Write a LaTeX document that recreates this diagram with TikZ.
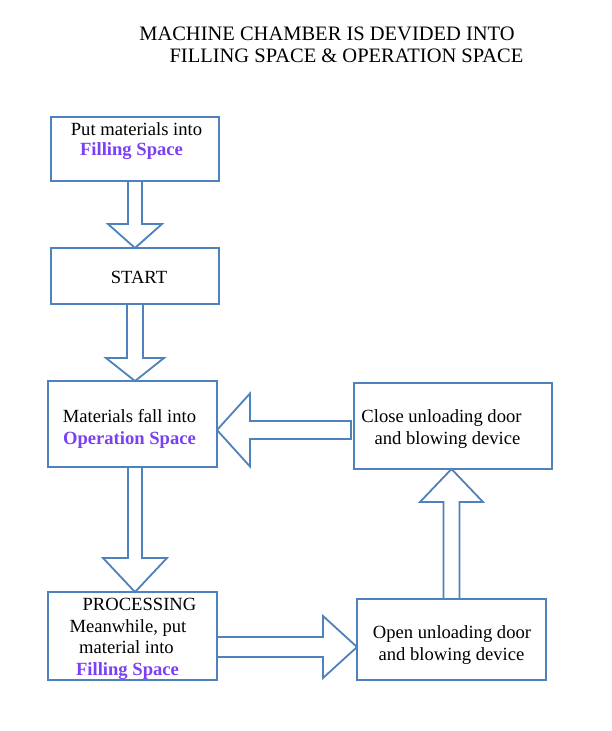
\documentclass[tikz,border=0pt]{standalone}
\usepackage{fontspec}
\setmainfont{Liberation Serif}
\usetikzlibrary{calc}
\definecolor{boxblue}{RGB}{79,129,189}
\definecolor{hlpurple}{RGB}{123,63,245}
\newcommand\bodyfnt{\fontsize{18.6}{22}\selectfont}
\newcommand\titlefnt{\fontsize{20.5}{24}\selectfont}
\newcommand\vblk[5]{\draw[blk] ($(#1)+(-#3,0)$) -- ($(#2)+(-#3,{-(#5)})$) -- ($(#2)+(-#4,{-(#5)})$) -- (#2) -- ($(#2)+(#4,{-(#5)})$) -- ($(#2)+(#3,{-(#5)})$) -- ($(#1)+(#3,0)$) -- cycle;}
\newcommand\hblk[5]{\draw[blk] ($(#1)+(0,-#3)$) -- ($(#2)+({-(#5)},-#3)$) -- ($(#2)+({-(#5)},-#4)$) -- (#2) -- ($(#2)+({-(#5)},#4)$) -- ($(#2)+({-(#5)},#3)$) -- ($(#1)+(0,#3)$) -- cycle;}
\tikzset{
  box/.style={draw=boxblue, line width=1.8pt, anchor=north west, inner sep=0pt, outer sep=0pt},
  blk/.style={draw=boxblue, line width=1.8pt, fill=white, line join=miter},
  txt/.style={font=\bodyfnt, anchor=base, inner sep=0pt},
  hl/.style={txt, font=\bodyfnt\bfseries, text=hlpurple},
  ttl/.style={font=\titlefnt, anchor=base, inner sep=0pt}
}
\begin{document}
\begin{tikzpicture}[x=1pt,y=-1pt]
\useasboundingbox[fill=white] (0,0) rectangle (611,731);
% title
\node[ttl] (ttl1) at (327,40) {MACHINE CHAMBER IS DEVIDED INTO};
\node[ttl] (ttl2) at (346.5,62) {FILLING SPACE \& OPERATION SPACE};
% boxes
\node[box, minimum width=168pt, minimum height=64pt] (b1) at (51,117) {};
\node[box, minimum width=168pt, minimum height=56pt] (b2) at (51,248) {};
\node[box, minimum width=169pt, minimum height=86pt] (b3) at (48,381) {};
\node[box, minimum width=169pt, minimum height=88pt] (b4) at (48,592) {};
\node[box, minimum width=198pt, minimum height=86pt] (b5) at (354,383) {};
\node[box, minimum width=189pt, minimum height=81pt] (b6) at (357,599) {};
% arrows
\coordinate (a1t) at (b1.south |- b2.north);
\vblk{b1.south}{a1t}{7}{27}{24}
\coordinate (a2t) at (b2.south |- b3.north);
\vblk{b2.south}{a2t}{8}{29}{23}
\coordinate (a3s) at ($(b3.south)+(2.5,0)$);
\coordinate (a3t) at (a3s |- b4.north);
\vblk{a3s}{a3t}{7}{32}{34}
\coordinate (a4s) at ($(b5.west)+(-3,4)$);
\coordinate (a4t) at (b3.east |- a4s);
\hblk{a4s}{a4t}{9}{36.5}{-33}
\coordinate (a5s) at ($(b4.east)+(0,11)$);
\coordinate (a5t) at (b6.west |- a5s);
\hblk{a5s}{a5t}{10}{31}{34}
\coordinate (a6t) at (b6.north |- b5.south);
\vblk{b6.north}{a6t}{8}{31.5}{-33}
% texts
\node[txt] (t1a) at (136.5,135) {Put materials into};
\node[hl]  (t1b) at (131.5,155) {Filling Space};
\node[txt] (t2a) at (139,283) {START};
\node[txt] (t3a) at (129.5,422) {Materials fall into};
\node[hl]  (t3b) at (129.5,444) {Operation Space};
\node[txt] (t4a) at (139.5,610) {PROCESSING};
\node[txt] (t4b) at (128,632) {Meanwhile, put};
\node[txt] (t4c) at (126.5,653) {material into};
\node[hl]  (t4d) at (127.5,675) {Filling Space};
\node[txt] (t5a) at (441.5,422) {Close unloading door};
\node[txt] (t5b) at (447.5,444) {and blowing device};
\node[txt] (t6a) at (452,638) {Open unloading door};
\node[txt] (t6b) at (451.5,660) {and blowing device};
\end{tikzpicture}
\end{document}
